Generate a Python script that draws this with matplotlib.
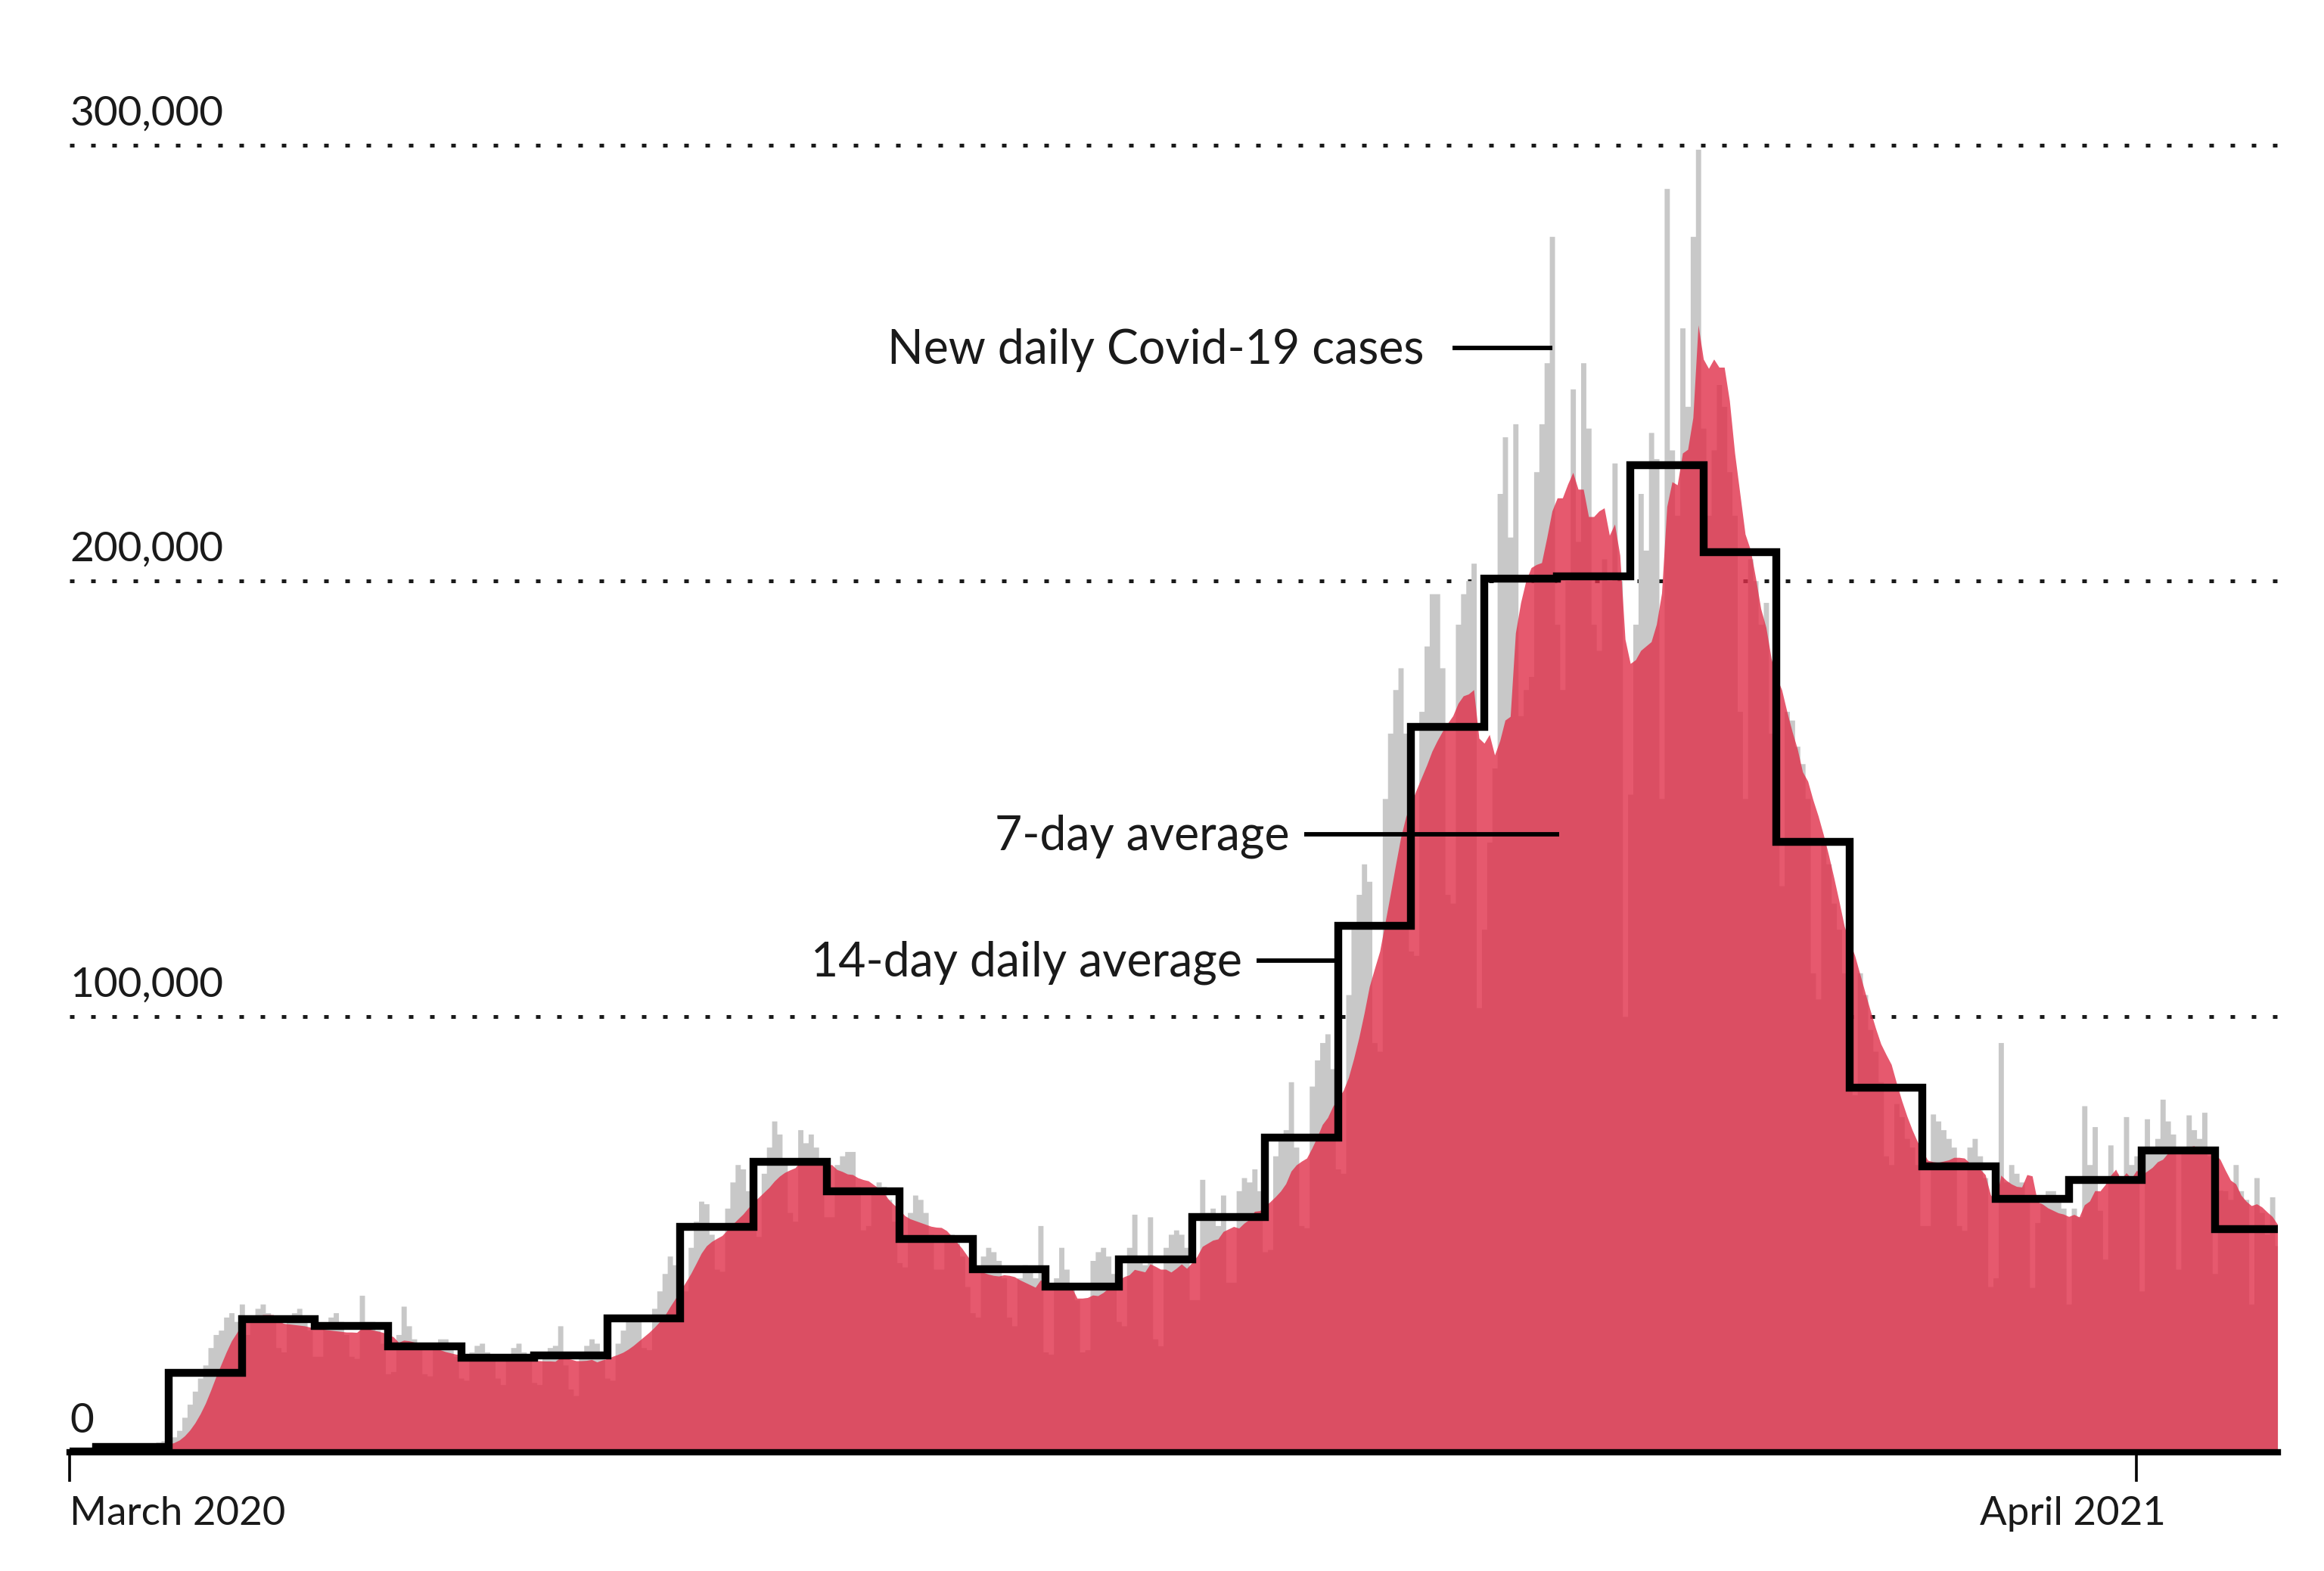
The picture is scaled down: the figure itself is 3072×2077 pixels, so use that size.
#!/usr/bin/env python3
# -*- coding: utf-8 -*-
"""
    New daily Covid-19 cases, March 2020 - April 2021
    grey bars = daily cases, red area = 7-day average,
    black steps = 14-day daily average
"""
import matplotlib
matplotlib.use("Agg")

import matplotlib.pyplot as plt
import matplotlib.transforms as mtransforms
import numpy as np
import pandas as pd

plt.rcParams["font.family"] = ["Lato", "DejaVu Sans"]

START = "2020-03-01"
PERIOD_START = "2020-03-06"

# new daily cases (thousands), one row per week starting 1 March 2020
daily_cases = [
    0.02, 0.02, 0.03, 0.05, 0.07, 0.08, 0.1,
    0.12, 0.2, 0.3, 0.4, 0.5, 0.6, 0.8,
    1.0, 1.3, 1.8, 2.3, 2.6, 3.0, 3.5,
    5, 8, 11, 14, 17, 20, 24,
    27, 28, 31, 32, 30, 34, 27,
    31, 33, 34, 32, 30, 24, 23,
    30, 32, 33, 31, 28, 22, 22,
    29, 31, 32, 30, 27, 22, 21.5,
    36, 30, 30, 28, 25, 18, 18.5,
    27, 33.5, 29, 26, 24, 18, 17.5,
    24, 26, 26, 24, 22, 17, 16.5,
    23, 24.5, 25, 23, 21, 17, 15.5,
    22.5, 24, 25, 23, 21, 16, 15.5,
    22, 24, 24.5, 29, 20, 14.5, 13,
    22, 24.5, 26, 25, 23, 17, 16.5,
    25, 28, 31, 31, 30, 24, 23.5,
    33, 37, 41, 45, 43, 37, 37,
    47, 53, 57.6, 57, 50, 42, 41.5,
    56, 62, 66, 65, 60, 51, 49.5,
    64, 70, 76, 73, 66, 55, 53,
    74, 71, 73, 70, 66, 54, 54,
    66, 68, 69, 69, 61, 51, 52,
    60, 62, 61, 58, 53, 43.5, 42.5,
    55, 59, 58, 55, 50, 42, 42,
    50, 50, 48, 45, 38, 32, 31,
    45, 47, 46, 44, 40, 31, 29,
    40, 43, 42, 40, 52, 23, 22.5,
    40, 47, 42, 38, 35, 23, 23.5,
    44, 46, 47, 45, 41, 30, 29,
    47, 54.6, 45, 43, 54, 26, 24.4,
    47, 50, 51, 50, 47, 35, 35,
    62.6, 55, 56, 52, 59, 39, 39,
    60, 63, 62, 65, 60, 46, 46.5,
    68, 72, 74, 85, 70, 52, 51.5,
    84, 90, 94, 96, 88, 65, 64,
    105, 120, 128, 135, 131, 94, 92,
    150, 165, 175, 180, 165, 115, 114,
    170, 185, 197, 197, 180, 128, 126,
    190, 197, 200, 204, 102, 120, 140,
    157, 220, 233, 210, 236, 169, 175,
    178, 225, 236, 250, 279, 190, 175,
    200, 244, 209, 250, 235, 190, 184,
    205, 200, 227, 200, 100, 151, 190,
    220, 207, 234, 228, 150, 290, 230,
    215, 258, 240, 279, 299, 235, 215,
    230, 245, 240, 225, 215, 170, 150,
    205, 200, 190, 195, 165, 140, 130,
    170, 168, 162, 158, 150, 110, 104,
    140, 135, 126, 120, 110, 85, 82,
    110, 105, 97, 92, 85, 68, 66,
    80, 77, 72, 70, 66, 52, 52,
    77.6, 76, 74, 72, 70, 52, 50.9,
    70, 72, 68, 63, 38, 40, 94,
    62, 66, 64, 62, 58, 37.8, 52.7,
    58, 60, 60, 58, 56, 34, 56,
    54, 79.5, 66, 74.7, 55.5, 44.3, 70.5,
    64, 63, 77, 66, 68, 37, 76.5,
    70, 72, 81, 76, 73, 42, 69,
    77.4, 74, 72, 78, 68, 41, 60.1,
    60, 58, 66, 60, 58, 34, 63,
    55, 50, 58.6, 47.4,
]

# 14-day daily average (thousands); first value is 1-5 March, last one is partial
avg_14day = [0.2, 1.2, 18.2, 30.6, 28.9, 24.3, 21.7, 22.3, 30.7, 51.8,
             66.7, 59.9, 48.9, 42.0, 38.0, 44.3, 54.0, 72.2, 120.8, 166.4,
             200.4, 201.0, 226.6, 206.5, 140.0, 83.6, 65.6, 58.1, 62.5, 69.3,
             51.2]

grid_values = [0, 100, 200, 300]
x_tick_dates = ["2020-03-01", "2021-04-01"]
x_tick_labels = ["March 2020", "April 2021"]

# label text, text right end (day), line start, line end, height (thousands)
notes = [
    ("New daily Covid-19 cases", 259.5, 264.9, 284.0, 253.4),
    ("7-day average", 233.7, 236.5, 285.3, 141.8),
    ("14-day daily average", 224.6, 227.4, 243.3, 112.9),
]

RED = "#e0304a"
GREY = "#c8c8c8"
INK = "#1a1a1a"


def day_numbers(dates, first):
    """ days since the first date, as plain numbers """
    return (pd.DatetimeIndex(dates) - first).days.to_numpy()


def main():
    dates = pd.date_range(START, periods=len(daily_cases))
    days = day_numbers(dates, dates[0])
    cases = pd.Series(daily_cases, index=dates)
    avg_7day = cases.rolling(7).mean().to_numpy()

    starts = pd.date_range(PERIOD_START, periods=len(avg_14day) - 1, freq="14D")
    edges = np.concatenate([[0], day_numbers(starts, dates[0]), [days[-1]]])

    fig = plt.figure(figsize=(30.72, 20.77), dpi=100)
    ax = fig.add_axes([0.030, 0.0756, 0.950, 0.846])

    # dotted gridlines
    for v in grid_values[1:]:
        ax.axhline(v, color=INK, lw=3.6, ls=(0, (1.2, 4.4)), zorder=0)

    # daily bars, one day wide, drawn as a single stepped area
    ax.fill_between(days, daily_cases, step="mid", color=GREY, lw=0, zorder=1)
    ax.fill_between(days, avg_7day, color=RED, alpha=0.8, lw=0, zorder=2)
    ax.stairs(avg_14day, edges, baseline=None, color="black", lw=7.5,
              zorder=4)

    # labelled pointers
    for text, tx, x0, x1, y in notes:
        ax.plot([x0, x1], [y, y], color="black", lw=4.2,
                solid_capstyle="butt", zorder=5)
        ax.text(tx, y - 3.6, text, ha="right", va="baseline", fontsize=45,
                color=INK, zorder=5)

    # y labels sit on top of their gridline, at the left edge
    for v in grid_values:
        ax.annotate(f"{v * 1000:,}", xy=(0, v),
                    xycoords=("axes fraction", "data"),
                    xytext=(0, 19), textcoords="offset points",
                    ha="left", va="baseline", fontsize=39.5, color=INK)

    ax.set_xlim(0, days[-1])
    ax.set_ylim(0, 305)
    ax.set_yticks([])

    ticks = day_numbers(x_tick_dates, dates[0])
    ax.set_xticks(ticks, x_tick_labels)
    ax.tick_params(axis="x", length=28, width=2.6, color="black",
                   labelsize=38, labelcolor=INK, pad=14)
    labels = ax.get_xticklabels()
    labels[0].set_ha("left")
    labels[1].set_ha("right")
    shift = mtransforms.ScaledTranslation(28 / 72, 0, fig.dpi_scale_trans)
    labels[1].set_transform(labels[1].get_transform() + shift)

    for side in ["top", "right", "left"]:
        ax.spines[side].set_visible(False)
    ax.spines["bottom"].set_linewidth(6)
    ax.spines["bottom"].set_color("black")
    ax.spines["bottom"].set_zorder(6)

    fig.savefig("out.png", dpi=100, facecolor="white")


main()
